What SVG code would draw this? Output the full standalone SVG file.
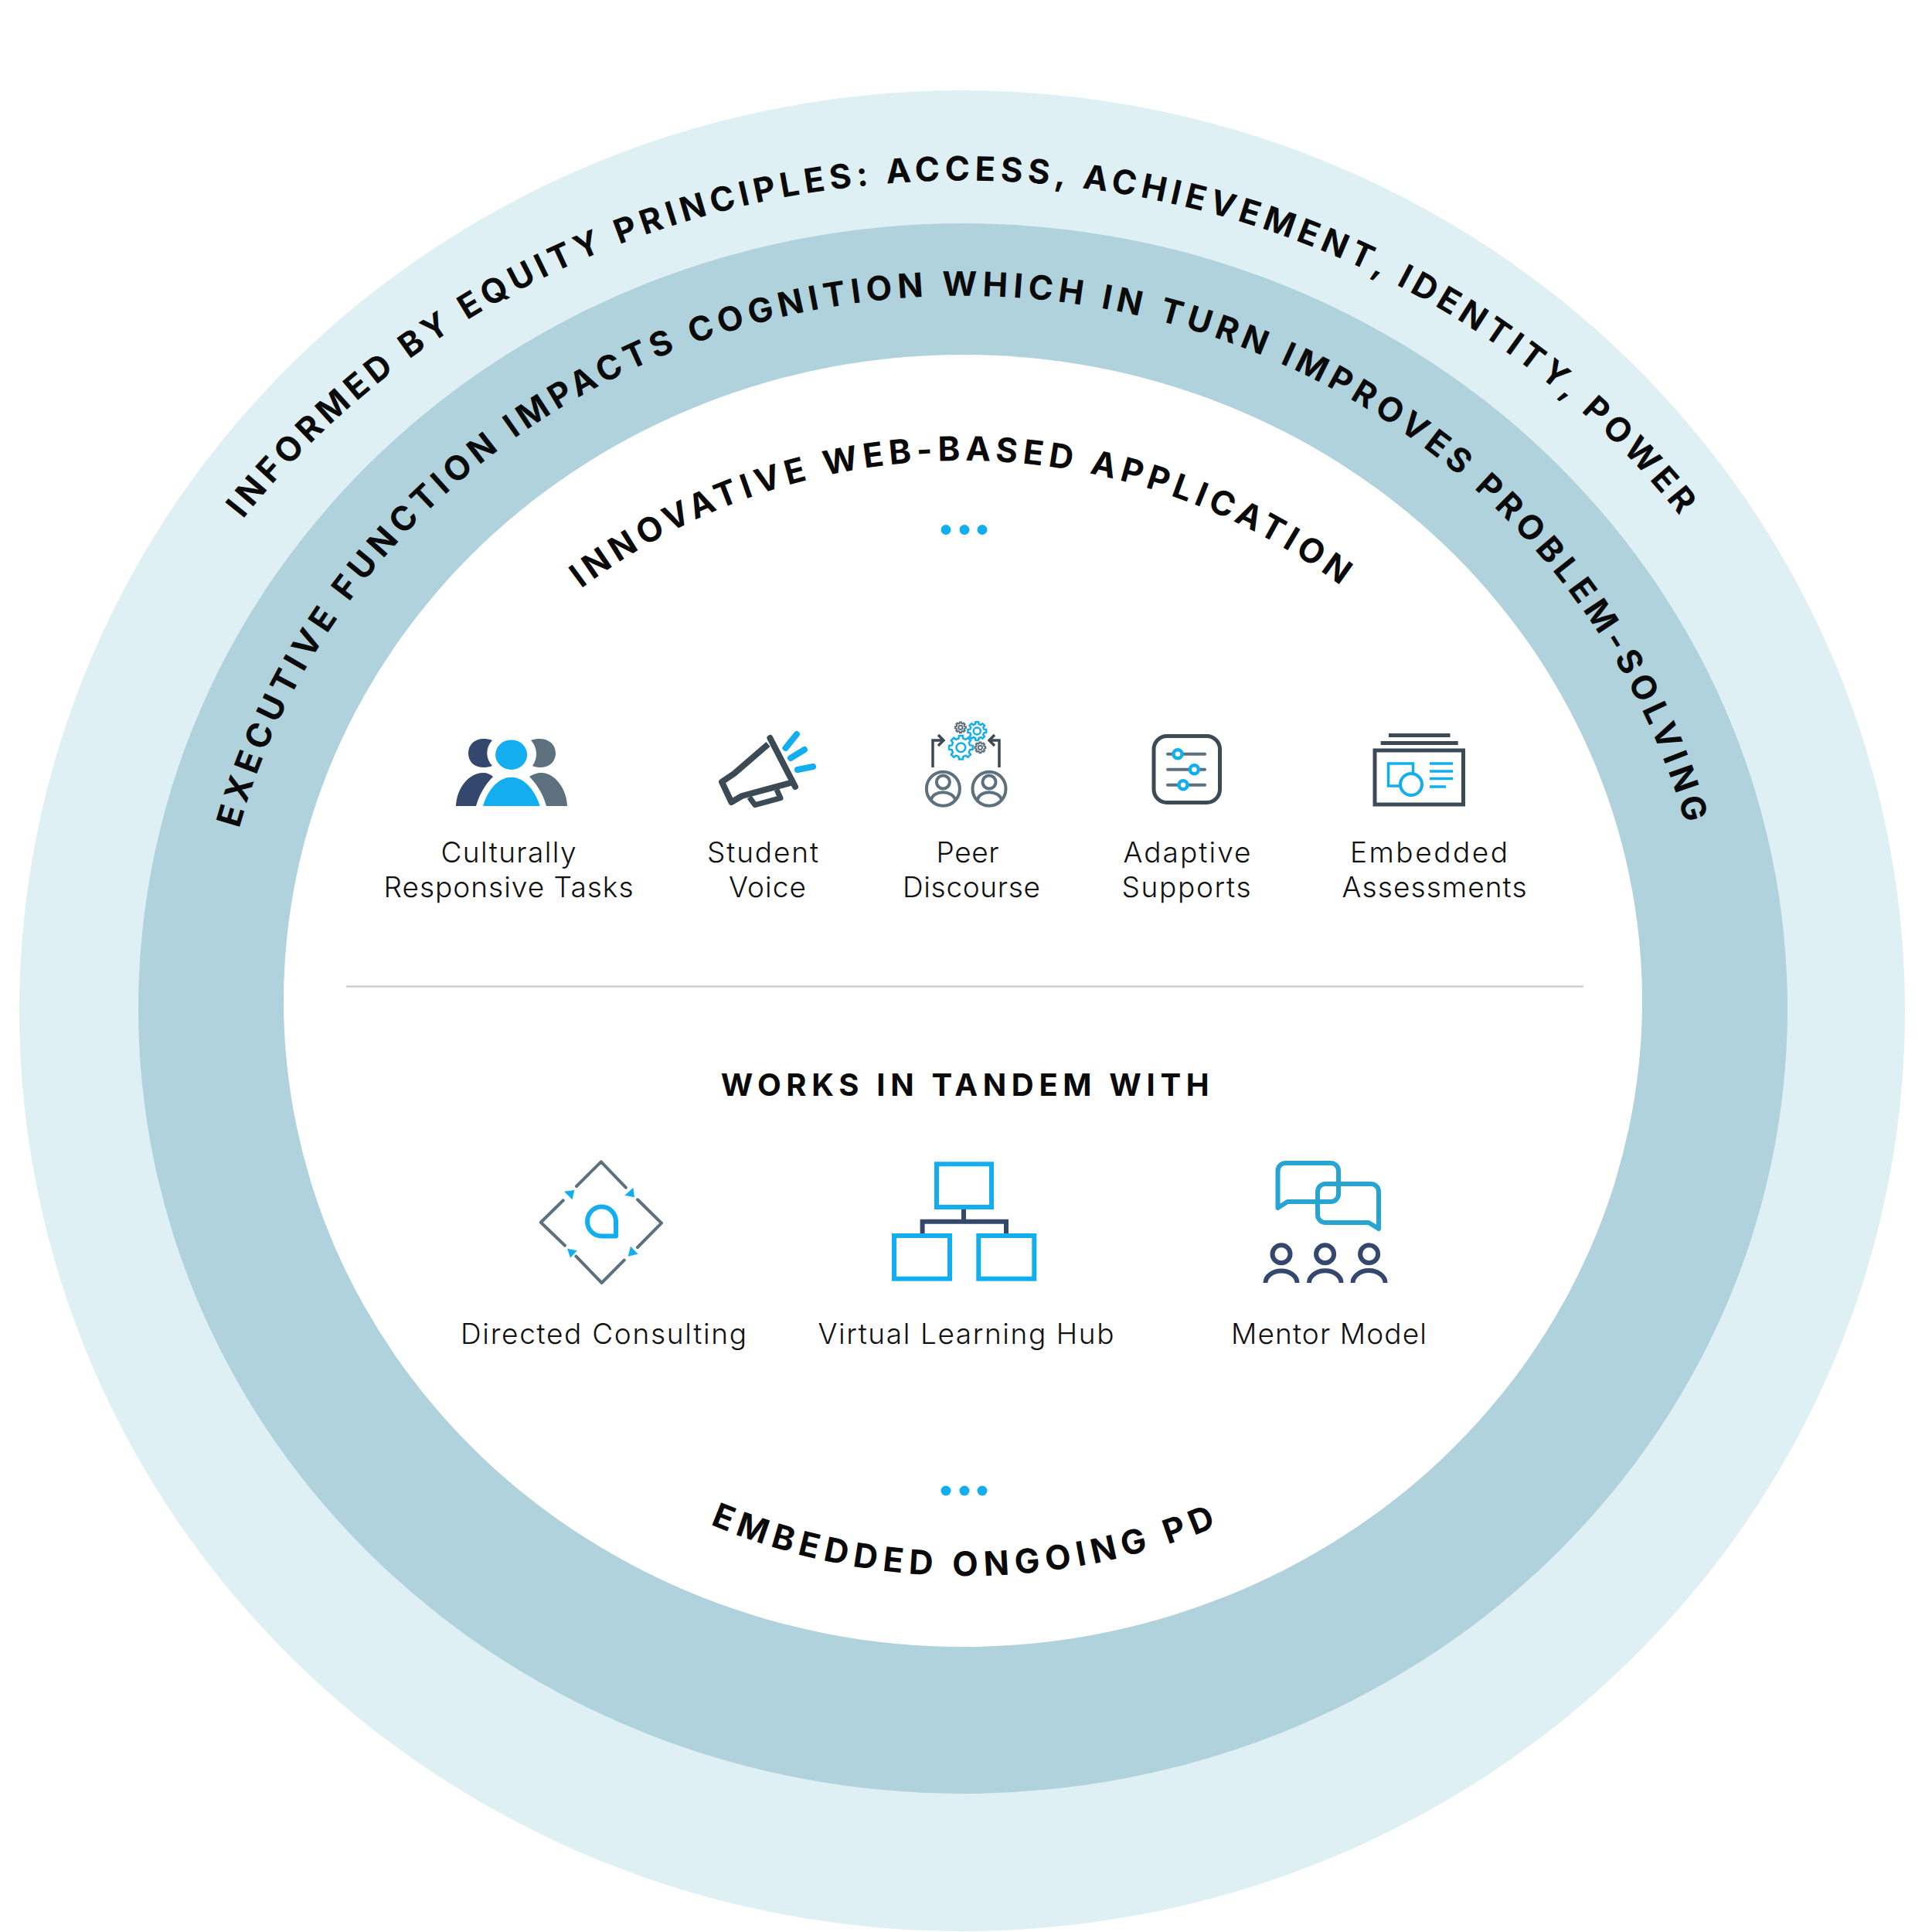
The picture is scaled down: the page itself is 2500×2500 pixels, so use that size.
<svg xmlns="http://www.w3.org/2000/svg" width="2500" height="2500" viewBox="0 0 2500 2500">
<style>
.lb{font-family:Inter,"Liberation Sans",sans-serif;font-weight:300;font-size:37px;fill:#111;text-anchor:middle}
.ct{font-family:Inter,"Liberation Sans",sans-serif;font-weight:700;font-size:43.5px;fill:#0a0a0a;text-anchor:middle}
.dk{fill:none;stroke:#3b4a54;stroke-width:5}
.gy{fill:none;stroke:#5d707d;stroke-width:4}
.bl{fill:none;stroke:#13aeef;stroke-width:5}
.nv{fill:none;stroke:#34476c;stroke-width:6}
.dot{fill:#13aeef}
.gb{fill:#fff;stroke:#13aeef;stroke-width:2.5}
.gg{fill:#fff;stroke:#5d707d;stroke-width:2}
#gear *{vector-effect:non-scaling-stroke}
</style>
<defs>
<g id="gear"><path d="M.757-.189L.988-.156V.156L.757.189L.669.402L.809.588L.588.809L.402.669L.189.757L.156.988H-.156L-.189.757L-.402.669L-.588.809L-.809.588L-.669.402L-.757.189L-.988.156V-.156L-.757-.189L-.669-.402L-.809-.588L-.588-.809L-.402-.669L-.189-.757L-.156-.988H.156L.189-.757L.402-.669L.588-.809L.809-.588L.669-.402Z"/><circle r=".38"/></g>
<path id="p1" d="M293 700 A1157 1077 0 0 1 2199 700"/>
<path id="p2" d="M291.5 1150 A969 927 0 0 1 2200.5 1150"/>
<path id="p3" d="M741 770 A820 820 0 0 1 1751 770"/>
<path id="p4" d="M925 1975 A854 854 0 0 0 1575 1975"/>
</defs>
<g id="rings">
<ellipse cx="1245" cy="1308" rx="1220" ry="1191" fill="#dff0f5"/>
<ellipse cx="1246" cy="1305" rx="1067" ry="1016" fill="#b0d2dd"/>
<ellipse cx="1246" cy="1295" rx="879" ry="836" fill="#fff"/>
</g>
<g id="ring-labels">
<text class="ct" style="letter-spacing:6.4px"><textPath href="#p1" startOffset="50%">INFORMED BY EQUITY PRINCIPLES: ACCESS, ACHIEVEMENT, IDENTITY, POWER</textPath></text>
<text class="ct" style="letter-spacing:6.8px"><textPath href="#p2" startOffset="50%">EXECUTIVE FUNCTION IMPACTS COGNITION WHICH IN TURN IMPROVES PROBLEM-SOLVING</textPath></text>
<text class="ct" style="letter-spacing:6.6px"><textPath href="#p3" startOffset="50%">INNOVATIVE WEB-BASED APPLICATION</textPath></text>
<text class="ct" style="letter-spacing:7.7px"><textPath href="#p4" startOffset="50%">EMBEDDED ONGOING PD</textPath></text>
</g>
<g id="dots-top"><circle class="dot" cx="1224" cy="685.5" r="6.5"/><circle class="dot" cx="1248" cy="685.5" r="6.5"/><circle class="dot" cx="1271" cy="685.5" r="6.5"/></g>
<g id="dots-bottom"><circle class="dot" cx="1224" cy="1929" r="6.5"/><circle class="dot" cx="1248" cy="1929" r="6.5"/><circle class="dot" cx="1271" cy="1929" r="6.5"/></g>
<line id="divider" x1="448" y1="1276.5" x2="2049" y2="1276.5" stroke="#cfcfcf" stroke-width="2.5"/>
<text id="tandem" x="1252" y="1417.5" class="ct" style="font-size:40px;letter-spacing:6.65px">WORKS IN TANDEM WITH</text>

<g id="culturally-responsive-tasks">
<ellipse cx="661.6" cy="976.7" rx="20.5" ry="19.3" fill="#13aeef"/>
<path d="M625 1043C631 1022 645 1005.7 661.6 1005.7S692 1022 698.7 1043Z" fill="#13aeef"/>
<path d="M637 958C620 952 606 960 606 974.7S620 997 637 991C628 982 628 967 637 958Z" fill="#34476c"/>
<path d="M590 1043C591 1020 606 1000 626 1000C630 1000 635 1002 638 1005C628 1015 620 1028 616 1043Z" fill="#34476c"/>
<path d="M687 958C704 952 719 960 719 974.7S704 997 689 991C696 982 696 967 687 958Z" fill="#5d707d"/>
<path d="M734 1043C733 1020 718 1000 700 1000C695 1000 689 1002 685 1005C695 1015 703 1028 707 1043Z" fill="#5d707d"/>
<text class="lb" x="658" y="1116" textLength="175">Culturally</text>
<text class="lb" x="658" y="1161" textLength="323">Responsive Tasks</text>
</g>
<g id="student-voice">
<path d="M996.4 955L1029 1018" class="dk" style="stroke-width:8;stroke-linecap:round"/>
<path d="M994 963L950 1001L934 1011.7L946.4 1038L960 1030L1023 1013" class="dk" style="stroke-width:8;stroke-linejoin:round"/>
<path d="M969.6 1031.7L977 1041.7L1010 1032.7L1005 1021.7" class="dk" style="stroke-width:7;stroke-linejoin:round"/>
<path d="M1016.5 968L1031 950M1023 981L1041 970M1032 996L1052 992" class="bl" style="stroke-width:8;stroke-linecap:round"/>
<text class="lb" x="987" y="1116" textLength="144">Student</text>
<text class="lb" x="993" y="1161" textLength="100">Voice</text>
</g>
<g id="peer-discourse">
<g class="gy"><ellipse cx="1220.4" cy="1020.7" rx="21.5" ry="22"/><ellipse cx="1280" cy="1020.7" rx="21.5" ry="22"/>
<ellipse cx="1220.4" cy="1012" rx="8.5" ry="8.5"/><ellipse cx="1280" cy="1012" rx="8.5" ry="8.5"/>
<path d="M1205 1035C1207 1022 1233 1022 1236 1035M1265 1035C1267 1022 1293 1022 1296 1035"/></g>
<path d="M1207 993V958H1219M1214 951L1221 958L1214 965M1293 993V958H1280M1287 951L1280 958L1287 965" class="dk" style="stroke-width:3.5"/>
<use href="#gear" class="gb" transform="translate(1243.4 967.3) scale(15.5)"/>
<use href="#gear" class="gb" transform="translate(1264.3 946) scale(12)"/>
<use href="#gear" class="gg" transform="translate(1242.9 941.3) scale(7)"/>
<use href="#gear" class="gg" transform="translate(1268.4 967.3) scale(7)"/>
<text class="lb" x="1252" y="1116" textLength="81">Peer</text>
<text class="lb" x="1257" y="1161" textLength="178">Discourse</text>
</g>
<g id="adaptive-supports">
<rect x="1493" y="952.5" width="85.5" height="86" rx="17" class="dk"/>
<path d="M1511 975.7H1559M1511 995.7H1559M1511 1015.7H1559" class="gy" style="stroke-linecap:round"/>
<g fill="#fff" stroke="#13aeef" stroke-width="4.5"><circle cx="1524" cy="975.7" r="5.5"/><circle cx="1545.4" cy="995.7" r="5.5"/><circle cx="1531" cy="1015.7" r="5.5"/></g>
<text class="lb" x="1536" y="1116" textLength="165">Adaptive</text>
<text class="lb" x="1535" y="1161" textLength="167">Supports</text>
</g>
<g id="embedded-assessments">
<path d="M1797 951.5H1876.5M1786.7 961.5H1886.7" class="dk"/>
<rect x="1779" y="971" width="114.5" height="70" class="dk"/>
<rect x="1796.5" y="988" width="32" height="29" class="bl" style="stroke-width:3.5"/>
<circle cx="1826" cy="1015" r="14" fill="#fff" stroke="#13aeef" stroke-width="4"/>
<path d="M1850 988H1880M1850 998H1880M1850 1007.5H1880M1850 1018H1871" class="bl" style="stroke-width:3.5"/>
<text class="lb" x="1849" y="1116" textLength="204">Embedded</text>
<text class="lb" x="1856" y="1161" textLength="239">Assessments</text>
</g>
<g id="directed-consulting">
<path d="M746 1535L777.8 1503.3L809.8 1536.7M825 1552.3L856 1582.7L825 1614M807.7 1630.7L778.6 1660L745.4 1625.7M728.8 1553.3L699.8 1581.7L731 1611.7" class="gy" style="stroke-linecap:round;stroke-linejoin:round"/>
<path d="M730 1541.7L743.4 1540L740.5 1552.3ZM819.3 1536.7L821 1549.3L808.5 1546.7ZM816 1612.7L825.5 1622.7L812.7 1625.7ZM734.2 1615.7L746.7 1618.3L738 1627.7Z" fill="#13aeef"/>
<path d="M797 1599.5H778.5A18.5 19 0 1 1 797 1580Z" class="bl" style="stroke-width:6;stroke-linejoin:round"/>
<text class="lb" x="781" y="1739" textLength="370">Directed Consulting</text>
</g>
<g id="virtual-learning-hub">
<path d="M1247 1565V1580.7M1193.6 1596V1580.7H1302V1596" class="nv"/>
<g class="bl" style="stroke-width:6"><rect x="1212" y="1506.3" width="71" height="55.7"/><rect x="1157" y="1599" width="72" height="55.7"/><rect x="1266.3" y="1599" width="72" height="55.7"/></g>
<text class="lb" x="1250" y="1739" textLength="383">Virtual Learning Hub</text>
</g>
<g id="mentor-model">
<g fill="none" stroke="#27a5d2" stroke-width="6" stroke-linejoin="round">
<path d="M1653.5 1563V1515A10 10 0 0 1 1663.5 1505H1722A10 10 0 0 1 1732 1515V1545A10 10 0 0 1 1722 1555H1666Z"/>
<path d="M1784 1590V1542A10 10 0 0 0 1774 1532H1715A10 10 0 0 0 1705 1542V1572A10 10 0 0 0 1715 1582H1771Z"/>
</g>
<g fill="none" stroke="#34476c" stroke-width="6">
<circle cx="1658" cy="1622.7" r="11.5"/><circle cx="1714.6" cy="1622.7" r="11.5"/><circle cx="1771.6" cy="1622.7" r="11.5"/>
<path d="M1637.5 1660A20.5 15.5 0 0 1 1678.5 1660M1694 1660A20.5 15.5 0 0 1 1735.5 1660M1750.5 1660A20.5 15.5 0 0 1 1792.5 1660"/>
</g>
<text class="lb" x="1719.5" y="1739" textLength="253">Mentor Model</text>
</g>
</svg>
